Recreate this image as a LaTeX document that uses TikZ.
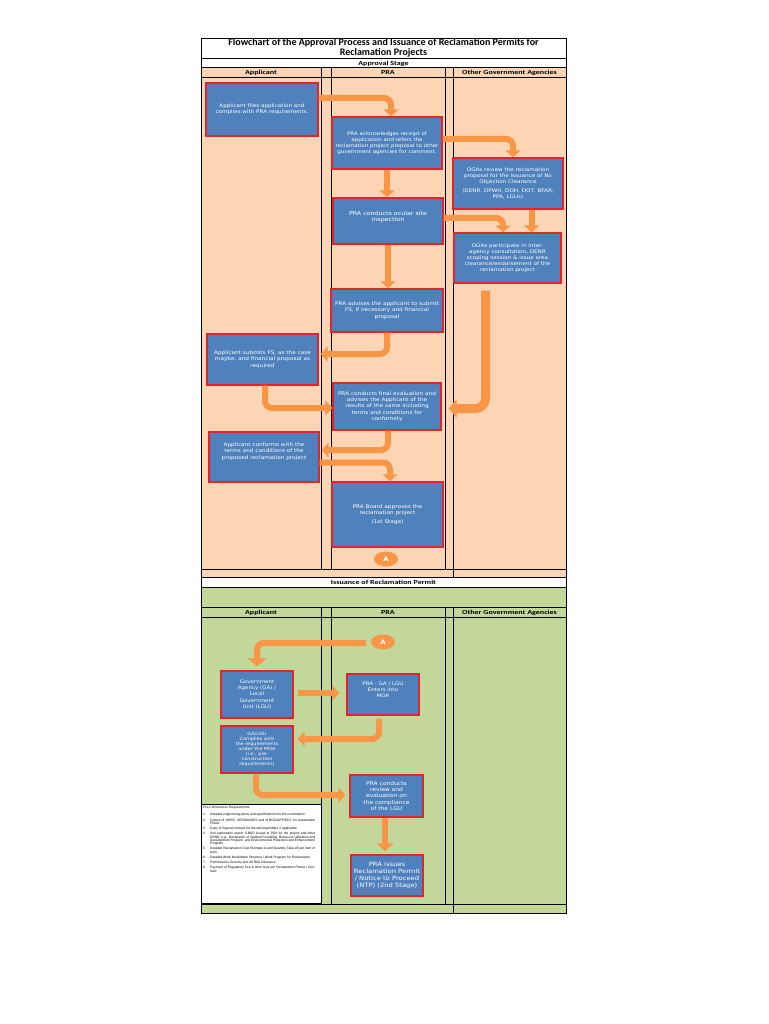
\documentclass[tikz,border=0pt]{standalone}
\usepackage{fontspec}
\setmainfont{Carlito}
\newfontfamily\bxf[FakeStretch=1.15]{DejaVu Sans}
\newfontfamily\hdf[FakeStretch=1.3]{Carlito}
\newfontfamily\ntf{Liberation Sans}
\usetikzlibrary{arrows.meta,calc,shapes.geometric}
\definecolor{peach}{HTML}{FCD5B4}
\definecolor{pgreen}{HTML}{C4D79B}
\definecolor{boxblue}{HTML}{4F81BD}
\definecolor{boxred}{HTML}{E3242B}
\definecolor{arrorange}{HTML}{F79646}
\newcommand\reqitem[1]{\par\noindent\hangindent=7pt\hangafter=1\makebox[7pt][l]{#1}\ignorespaces}
\begin{document}
\begin{tikzpicture}[x=1pt,y=-1pt,
  grid/.style={line width=0.9pt, draw=black},
  hdr/.style={font=\hdf\bfseries\fontsize{6.2}{7}\selectfont, inner sep=0pt, anchor=base},
  box/.style={draw=boxred, fill=boxblue, line width=1.4pt, text=white, align=center, inner sep=0pt},
  arr/.style={draw=arrorange, line width=6pt, rounded corners=7pt, -{Triangle[length=7pt,width=15pt]}},
  bigarr/.style={draw=arrorange, line width=9pt, rounded corners=10pt, -{Triangle[length=8pt,width=19pt]}},
  conn/.style={fill=arrorange, shape=ellipse, minimum width=24pt, minimum height=15pt, inner sep=0pt, text=white, font=\bxf\bfseries\fontsize{6}{7}\selectfont},
]
\useasboundingbox (0,0) rectangle (768,1024);
\fill[white] (0,0) rectangle (768,1024);
% backgrounds
\fill[peach] (201,67.5) rectangle (566,577);
\fill[pgreen] (201,587) rectangle (566,913);
% grid
\draw[grid] (201,38) rectangle (566,913);
\foreach \y in {58.7,67.5,77,569,577,587,607,617,904} {\draw[grid] (201,\y) -- (566,\y);}
\foreach \x in {321,331,445} {\draw[grid] (\x,67.5) -- (\x,569); \draw[grid] (\x,607) -- (\x,904);}
\draw[grid] (453,67.5) -- (453,577);
\draw[grid] (453,607) -- (453,913);
% headings
\node[font=\bfseries\fontsize{10}{9.6}\selectfont, align=center, inner sep=0pt] (title) at (383.5,48)
  {Flowchart of the Approval Process and Issuance of Reclamation Permits for\\Reclamation Projects};
\node[hdr] (stage1) at (383.5,65.2) {Approval Stage};
\node[hdr] (h1a) at (261,74.5) {Applicant};
\node[hdr] (h1b) at (388,74.5) {PRA};
\node[hdr] (h1c) at (509.5,74.5) {Other Government Agencies};
\node[hdr] (stage2) at (383.5,584.3) {Issuance of Reclamation Permit};
\node[hdr] (h2a) at (261,614.3) {Applicant};
\node[hdr] (h2b) at (388,614.3) {PRA};
\node[hdr] (h2c) at (509.5,614.3) {Other Government Agencies};
% upper boxes
\node[box, minimum width=112pt, minimum height=53pt, font=\bxf\fontsize{4.9}{6.3}\selectfont] (b1) at (262,109.5)
  {Applicant files application and\\complies with PRA requirements.};
\node[box, minimum width=110pt, minimum height=52pt, font=\bxf\fontsize{4.8}{6.2}\selectfont] (b2) at (387,143)
  {PRA acknowledges receipt of\\application and refers the\\reclamation project proposal to other\\government agencies for comment.};
\node[box, minimum width=110pt, minimum height=51pt, font=\bxf\fontsize{4.9}{6.1}\selectfont] (b3) at (508,183.5)
  {OGAs review the reclamation\\proposal for the issuance of No\\Objection Clearance\\[2.5pt](DENR, DPWH, DOH, DOT, BFAR,\\PPA, LGUs)};
\node[box, minimum width=110pt, minimum height=46pt, font=\bxf\fontsize{5.5}{6.4}\selectfont] (b4) at (388,221)
  {PRA conducts ocular site\\inspection\\[3pt]};
\node[box, minimum width=107pt, minimum height=50pt, font=\bxf\fontsize{4.9}{6.1}\selectfont] (b5) at (507.5,258)
  {OGAs participate in inter-\\agency consultation, DENR\\scoping session \& issue area\\clearance/endorsement of the\\reclamation project};
\node[box, minimum width=112pt, minimum height=43pt, font=\bxf\fontsize{5}{6.3}\selectfont] (b6) at (387,310.5)
  {PRA advises the applicant to submit\\FS, if necessary and financial\\proposal};
\node[box, minimum width=111pt, minimum height=51pt, font=\bxf\fontsize{5}{6.3}\selectfont] (b7) at (262.5,359.5)
  {Applicant submits FS, as the case\\maybe, and financial proposal as\\required};
\node[box, minimum width=108pt, minimum height=47pt, font=\bxf\fontsize{5}{6.3}\selectfont] (b8) at (387,406.5)
  {PRA conducts final evaluation and\\advises the Applicant of the\\results of the same including\\terms and conditions for\\conformity};
\node[box, minimum width=110pt, minimum height=50pt, font=\bxf\fontsize{5}{6.3}\selectfont] (b9) at (264,457)
  {Applicant conforms with the\\terms and conditions of the\\proposed reclamation project\\[6pt]};
\node[box, minimum width=111pt, minimum height=65pt, font=\bxf\fontsize{5}{6.3}\selectfont] (b10) at (387.5,514.5)
  {PRA Board approves the\\reclamation project\\[2pt](1st Stage)};
\node[conn] (A1) at (386,559) {A};
% lower boxes
\node[conn] (A2) at (383,642) {A};
\node[box, minimum width=72pt, minimum height=47pt, font=\bxf\fontsize{4.8}{6.3}\selectfont] (c1) at (257,694.5)
  {Government\\Agency (GA) /\\Local\\Government\\Unit (LGU)};
\node[box, minimum width=72pt, minimum height=41pt, font=\bxf\fontsize{4.8}{6.3}\selectfont] (c2) at (383,694.5)
  {PRA - GA / LGU\\Enters into\\MOA\\[3pt]};
\node[box, minimum width=72pt, minimum height=47pt, font=\bxf\fontsize{4.3}{5.1}\selectfont] (c3) at (257,749.5)
  {GA/LGU\\Complies with\\the requirements\\under the MOA\\(i.e., pre-\\construction\\requirements)};
\node[box, minimum width=73pt, minimum height=42pt, font=\bxf\fontsize{5.2}{6.3}\selectfont] (c4) at (386.5,796)
  {PRA conducts\\review and\\evaluation on\\the compliance\\of the LGU};
\node[box, minimum width=72pt, minimum height=41pt, font=\bxf\fontsize{5.9}{6.8}\selectfont] (c5) at (387,875.5)
  {PRA issues\\Reclamation Permit\\/ Notice to Proceed\\(NTP) (2nd Stage)};
% notes
\node[draw=black, line width=0.9pt, fill=white, minimum width=120pt, minimum height=99pt, inner sep=0pt] (notes) at (261,853.5) {};
\node[anchor=north west, inner sep=0pt, font=\ntf\fontsize{3.3}{3.35}\selectfont] (notestext) at (203,805.5)
  {\parbox[t]{112pt}{\sloppy\parskip=1.8pt
   \noindent Pre-Construction Requirements\par\vspace{2.6pt}
   \reqitem{1.}Detailed engineering plans and specifications for the reclamation
   \reqitem{2.}Copies of ODSR, SEE/BAS/EIS and of BOG/APP/ECC for reclamation Phase
   \reqitem{3.}Copy of Signed contract for the winning bidder, if applicable
   \reqitem{4.}Soil exploration report, GBGP issued to PRA for the project and other DENR, e.g., Declaration of Seabed Feasibility, Bureau of Utilization and Development Program, and Environmental Protection and Enhancement Program.
   \reqitem{5.}Detailed Reclamation Cost Estimate \& and Quantity Take-off per item of work
   \reqitem{6.}Detailed Work breakdown Structure / Work Program for Reclamation
   \reqitem{7.}Performance Security and All Risk Insurance
   \reqitem{8.}Payment of Regulatory Fee \& other fees per Reclamation Permit / Contract\par}};
% upper arrows
\draw[arr] ([yshift=11.5pt]b1.east) -| ([xshift=4pt]b2.north);
\draw[arr] ([yshift=4pt]b2.east) -| ([xshift=5pt]b3.north);
\draw[arr] (b2.south) -- (b2.south |- b4.north);
\draw[arr] ([yshift=3pt]b4.east) -| ([xshift=-4.5pt]b5.north);
\draw[arr] ([xshift=23.5pt]b3.south) -- ($(b3.south |- b5.north)+(23.5,0)$);
\draw[arr] (b4.south) -- (b4.south |- b6.north);
\draw[bigarr] ([xshift=-22pt,yshift=-7pt]b5.south) |- ([xshift=7pt,yshift=-2pt]b8.east);
\draw[arr] (b6.south) |- ([xshift=2pt,yshift=5.5pt]b7.east);
\draw[arr] ([xshift=2.5pt]b7.south) |- ([yshift=-1.5pt]b8.west);
\draw[arr] ([xshift=1pt]b8.south) |- ([xshift=2pt,yshift=7pt]b9.east);
\draw[arr] ([yshift=-5.5pt]b9.east) -| ([xshift=2.5pt]b10.north);
% lower arrows
\draw[arr, -{Triangle[length=8pt,width=19pt]}] ([xshift=-5pt,yshift=-1pt]A2.west) -| ([yshift=4pt]c1.north);
\draw[arr] ([xshift=4pt,yshift=1.5pt]c1.east) -- ([xshift=-7pt,yshift=1.5pt]c2.west);
\draw[arr] ([xshift=-4pt,yshift=-3pt]c2.south) |- ([xshift=4pt,yshift=10.5pt]c3.east);
\draw[arr] ([xshift=-1pt]c3.south) |- ([xshift=-4pt,yshift=1pt]c4.west);
\draw[arr, -{Triangle[length=8pt,width=17pt]}] ([xshift=-1.5pt]c4.south) -- ($(c4.south |- c5.north)+(-1.5,-3)$);
\end{tikzpicture}
\end{document}
